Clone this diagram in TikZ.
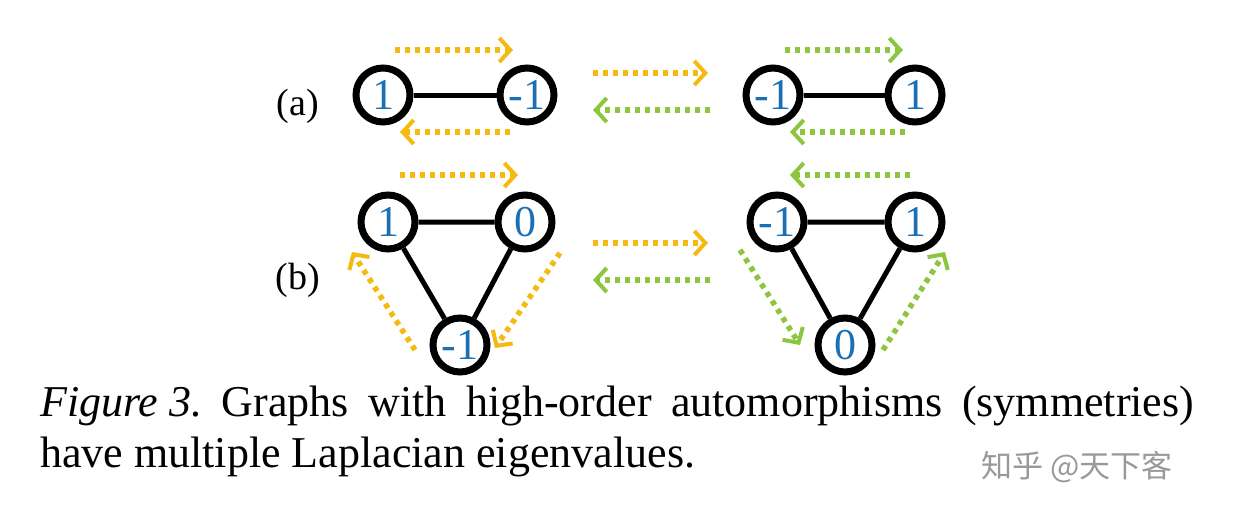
\documentclass[tikz,border=0pt]{standalone}
\usepackage{fontspec}
\setmainfont{Liberation Serif}
\newfontfamily\cjk{Noto Sans CJK SC}
\usetikzlibrary{arrows.meta}
\definecolor{ylw}{HTML}{F5B90F}
\definecolor{grn}{HTML}{8CC63F}
\definecolor{num}{HTML}{1A6FB5}
\begin{document}
\begin{tikzpicture}[x=1pt,y=-1pt,
  v/.style={circle,draw=black,line width=7pt,minimum size=54pt,inner sep=0pt,font=\fontsize{44}{44}\selectfont,text=num},
  e/.style={line width=5pt},
  ar/.style={line width=5.5pt,dash pattern=on 5pt off 5pt,-{Straight Barb[length=11pt,width=24pt,line width=4pt]}},
  Y/.style={ar,draw=ylw},G/.style={ar,draw=grn}]
\useasboundingbox (0,0) rectangle (1240,520);
\node (la) at (298,106) {\fontsize{38}{38}\selectfont (a)};
\node (lb) at (298,280) {\fontsize{38}{38}\selectfont (b)};
\node[v] (a1) at (383,95) {1};
\node[v] (a2) at (527,95) {-1};
\node[v] (a3) at (773,95) {-1};
\node[v] (a4) at (915,95) {1};
\draw[e] (a1)--(a2); \draw[e] (a3)--(a4);
\node[v] (b1) at (388,222) {1};
\node[v] (b2) at (525,222) {0};
\node[v] (b3) at (460,345) {-1};
\node[v] (c1) at (777,222) {-1};
\node[v] (c2) at (915,222) {1};
\node[v] (c3) at (845,345) {0};
\draw[e] (b1)--(b2) (b1)--(b3) (b2)--(b3);
\draw[e] (c1)--(c2) (c1)--(c3) (c2)--(c3);
\coordinate (p1) at (395,50); \coordinate (p2) at (513,50);
\draw[Y] (p1)--(p2);
\coordinate (p3) at (510,132); \coordinate (p4) at (400,132);
\draw[Y] (p3)--(p4);
\coordinate (p5) at (593,73); \coordinate (p6) at (708,73);
\draw[Y] (p5)--(p6);
\coordinate (p7) at (710,110); \coordinate (p8) at (593,110);
\draw[G] (p7)--(p8);
\coordinate (q1) at (785,50); \coordinate (q2) at (903,50);
\draw[G] (q1)--(q2);
\coordinate (q3) at (905,132); \coordinate (q4) at (790,132);
\draw[G] (q3)--(q4);
\coordinate (r1) at (400,175); \coordinate (r2) at (518,175);
\draw[Y] (r1)--(r2);
\coordinate (r3) at (593,243); \coordinate (r4) at (708,243);
\draw[Y] (r3)--(r4);
\coordinate (r5) at (710,280); \coordinate (r6) at (593,280);
\draw[G] (r5)--(r6);
\coordinate (r7) at (415,350); \coordinate (r8) at (352,252);
\draw[Y] (r7)--(r8);
\coordinate (r9) at (560,253); \coordinate (r10) at (495,348);
\draw[Y] (r9)--(r10);
\coordinate (s1) at (910,175); \coordinate (s2) at (790,175);
\draw[G] (s1)--(s2);
\coordinate (s3) at (740,250); \coordinate (s4) at (800,345);
\draw[G] (s3)--(s4);
\coordinate (s5) at (883,350); \coordinate (s6) at (945,252);
\draw[G] (s5)--(s6);
\node[anchor=north west,align=left,inner sep=0pt,font=\fontsize{44}{51}\selectfont] (cap) at (40,386)
{\makebox[1154pt]{\textit{Figure 3.}\hfill Graphs\hfill with\hfill high-order\hfill automorphisms\hfill (symmetries)}\\have multiple Laplacian eigenvalues.};
\node[anchor=west,text=black!40,font=\cjk\fontsize{31}{31}\selectfont] (wm) at (978,467) {知乎 @天下客};
\end{tikzpicture}
\end{document}
